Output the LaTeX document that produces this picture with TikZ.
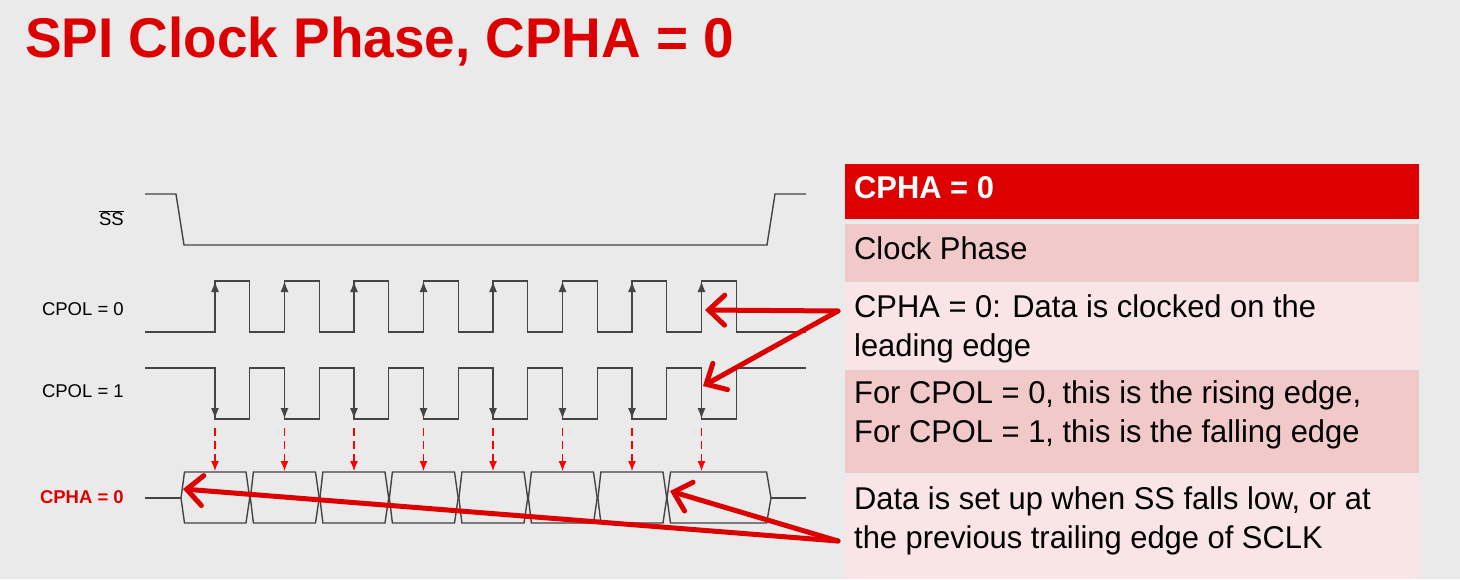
\documentclass[tikz,border=0pt]{standalone}
\usepackage{fontspec}
\setmainfont{Liberation Sans}
\newfontfamily\narrow[FakeStretch=0.98]{Liberation Sans}
\usetikzlibrary{arrows.meta}
\definecolor{bg}{HTML}{EAEAEA}
\definecolor{tired}{HTML}{DD0000}
\definecolor{pinkA}{HTML}{F2C9C9}
\definecolor{pinkB}{HTML}{F9E5E5}
\definecolor{wire}{HTML}{444444}
\begin{document}
\begin{tikzpicture}[x=1pt,y=-1pt,
  sig/.style={draw=wire,line width=1.4pt},
  edgearrow/.style={draw=wire,line width=1.4pt,-{Latex[length=11pt,width=8pt]}},
  dasharrow/.style={draw=red,line width=1.3pt,dashed,dash pattern=on 8pt off 5pt,-{Latex[length=10pt,width=8pt]}},
  bigarrow/.style={draw=tired,line width=5pt,line cap=round,-{Straight Barb[length=16pt,width=30pt,line cap=round]}},
  rowtext/.style={anchor=north west,align=left,font=\narrow\fontsize{31.5}{39}\selectfont,inner sep=0pt},
  lbl/.style={anchor=east,font=\fontsize{18.5}{22}\selectfont,inner sep=0pt}]
\useasboundingbox (0,0) rectangle (1460,579);
\fill[bg] (0,0) rectangle (1460,579);
\node[anchor=west,inner sep=0pt,text=tired,font=\narrow\bfseries\fontsize{56}{62}\selectfont] (title) at (25,42) {SPI Clock Phase, CPHA = 0};
% table
\fill[tired] (845,164) rectangle (1419,219);
\fill[pinkA] (845,224) rectangle (1419,282);
\fill[pinkB] (845,283) rectangle (1419,369);
\fill[pinkA] (845,370) rectangle (1419,473);
\fill[pinkB] (845,475) rectangle (1419,579);
\node[rowtext,anchor=west,text=white,font=\narrow\bfseries\fontsize{31.5}{36}\selectfont] (h) at (854,188) {CPHA = 0};
\node[rowtext,anchor=west] (r2) at (854,248) {Clock Phase};
\node[rowtext] (r3) at (854,294) {CPHA = 0: Data is clocked on the\\leading edge};
\node[rowtext] (r4) at (854,380) {For CPOL = 0, this is the rising edge,\\For CPOL = 1, this is the falling edge};
\node[rowtext] (r5) at (854,486) {Data is set up when SS falls low, or at\\the previous trailing edge of SCLK};
% labels
\node[lbl] (lss) at (124,218) {$\overline{\mbox{SS}}$};
\node[lbl] (l0) at (124,309) {CPOL = 0};
\node[lbl] (l1) at (124,391) {CPOL = 1};
\node[lbl,text=tired,font=\bfseries\fontsize{18.5}{22}\selectfont] (lc) at (124,497) {CPHA = 0};
% SS
\draw[sig] (145,194) -- (176,194) -- (184,245) -- (767,245) -- (775,194) -- (806,194);
% clocks
\draw[sig] (145,332) foreach \i in {0,...,7} {-- ({215+69.5*\i},332) -- ({215+69.5*\i},281) -- ({249.7+69.5*\i},281) -- ({249.7+69.5*\i},332)} -- (806,332);
\draw[sig] (145,368) foreach \i in {0,...,7} {-- ({215+69.5*\i},368) -- ({215+69.5*\i},419) -- ({249.7+69.5*\i},419) -- ({249.7+69.5*\i},368)} -- (806,368);
\foreach \i in {0,...,7} {
  \coordinate (u\i) at ({215+69.5*\i},281);
  \draw[edgearrow] ({215+69.5*\i},312) -- (u\i);
  \coordinate (d\i) at ({215+69.5*\i},419);
  \draw[edgearrow] ({215+69.5*\i},388) -- (d\i);
  \coordinate (ds\i) at ({215+69.5*\i},428);
  \coordinate (de\i) at ({215+69.5*\i},471);
  \draw[dasharrow] (ds\i) -- (de\i);
}
% data bus
\draw[sig] (145,498) -- (181,498);
\draw[sig] (771,498) -- (806,498);
\draw[sig] (184.5,472) -- (246,472) -- (249.7,498) -- (246,523) -- (184.5,523) -- (181,498) -- cycle;
\foreach \i in {1,...,6} {
  \draw[sig] ({253.4+69.5*(\i-1)},472) -- ({315.5+69.5*(\i-1)},472) -- ({319.2+69.5*(\i-1)},498) -- ({315.5+69.5*(\i-1)},523) -- ({253.4+69.5*(\i-1)},523) -- ({250.4+69.5*(\i-1)},498) -- cycle;
}
\draw[sig] (670.5,472) -- (766.6,472) -- (771,498) -- (766.6,523) -- (670.5,523) -- (667,498) -- cycle;
% red pointer arrows
\coordinate (a1s) at (838,311);
\coordinate (a1e) at (705,310);
\coordinate (a2e) at (703,386);
\coordinate (a3s) at (838,541);
\coordinate (a3e) at (183,489);
\coordinate (a4e) at (670,491);
\draw[bigarrow] (a1s) -- (a1e);
\draw[bigarrow] (a1s) -- (a2e);
\draw[bigarrow] (a3s) -- (a3e);
\draw[bigarrow] (a3s) -- (a4e);
\end{tikzpicture}
\end{document}
